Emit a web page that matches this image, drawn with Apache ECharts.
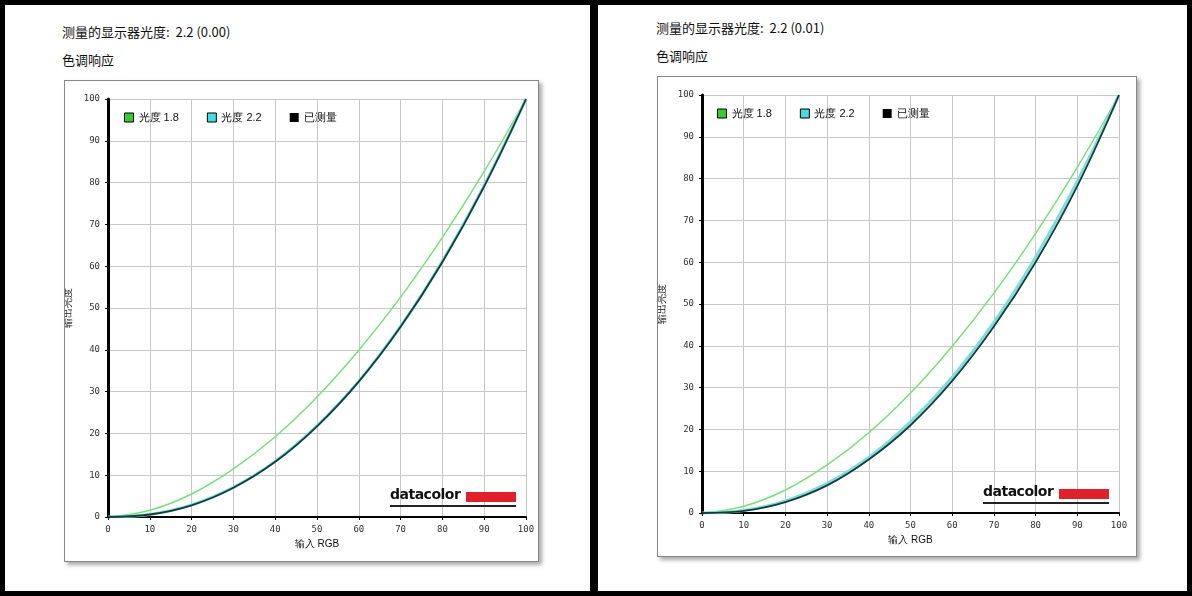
<!DOCTYPE html>
<html><head><meta charset="utf-8">
<script src="https://cdn.jsdelivr.net/npm/echarts@6/dist/echarts.min.js"></script>
<style>
body{margin:0;width:1192px;height:596px;background:#000;font-family:"Noto Sans CJK SC","Noto Sans",sans-serif;overflow:hidden;position:relative}
.pane{position:absolute;background:#fff}
.t{position:absolute;font-size:13px;color:#111}
.box{position:absolute;background:#fff;border:1px solid #888;box-shadow:3px 3px 4px #aaa}
.logo{position:absolute;font:bold 14px "DejaVu Sans",sans-serif;color:#111;letter-spacing:-0.5px}
.logo span{position:absolute;top:6px;height:10px;width:50px;background:#e0202a}
.logo i{position:absolute;left:0;top:19px;height:1.5px;width:126px;background:#222}
</style></head><body>
<div class="pane" style="left:5px;top:5px;width:585px;height:586px"></div>
<div class="pane" style="left:598px;top:5px;width:589px;height:586px"></div>
<div class="t" style="left:62px;top:22px">测量的显示器光度:&nbsp; 2.2 (0.00)</div>
<div class="t" style="left:62px;top:50px">色调响应</div>
<div class="t" style="left:656px;top:18px">测量的显示器光度:&nbsp; 2.2 (0.01)</div>
<div class="t" style="left:656px;top:46px">色调响应</div>
<div class="box" id="c1" style="left:64px;top:80px;width:473px;height:480px"></div>
<div class="box" id="c2" style="left:657px;top:76px;width:478px;height:479px"></div>
<div class="logo" style="left:390px;top:486px">datacolor<span style="left:76px"></span><i></i></div>
<div class="logo" style="left:983px;top:483px">datacolor<span style="left:76px"></span><i></i></div>
<script>
const xs = [0, 10, 20, 30, 40, 50, 60, 70, 80, 90, 100]
const gamma18 = [0, 1.6, 5.5, 11.5, 19.2, 28.7, 39.9, 52.6, 66.9, 82.7, 100]
const gamma22 = [0, 0.6, 2.9, 7.1, 13.3, 21.8, 32.5, 45.6, 61.2, 79.3, 100]
const measured1 = [0, 0.6, 2.8, 7.0, 13.2, 21.7, 32.4, 45.5, 61.0, 79.1, 100]
const measured2 = [0, 0.5, 2.6, 6.6, 12.8, 21.0, 31.6, 44.6, 60.0, 78.2, 100]

function pts(vals) { return xs.map((x, i) => [x, vals[i]]) }

function createGrafik(id, measured, grid) {
    const chart = echarts.init(document.getElementById(id))
    const lbl = { fontSize: 9, color: '#333', fontFamily: 'DejaVu Sans Mono' }
    const axisCommon = {
        type: 'value', min: 0, max: 100, interval: 10,
        splitLine: { lineStyle: { color: '#c8c8c8' } },
        axisTick: { show: true, length: 3, lineStyle: { color: '#000' } },
        axisLabel: lbl,
        nameTextStyle: { fontSize: 10, color: '#111' }
    }
    grid.containLabel = false
    grid.outerBoundsMode = 'none'
    chart.setOption({
        animation: false,
        grid: grid,
        legend: {
            left: 54, top: 26, itemGap: 28, itemWidth: 9, itemHeight: 9,
            textStyle: { fontSize: 11, color: '#111' },
            data: [
                { name: '光度 1.8', icon: 'rect', itemStyle: { color: '#33cc33', borderColor: '#000', borderWidth: 1 } },
                { name: '光度 2.2', icon: 'rect', itemStyle: { color: '#44dddd', borderColor: '#000', borderWidth: 1 } },
                { name: '已测量', icon: 'rect', itemStyle: { color: '#000' } }
            ]
        },
        xAxis: Object.assign({}, axisCommon, {
            name: '输入 RGB', nameLocation: 'middle', nameGap: 20,
            axisLine: { lineStyle: { color: '#000', width: 2 } }
        }),
        yAxis: Object.assign({}, axisCommon, {
            name: '输出亮度', nameLocation: 'middle', nameGap: 22,
            axisLine: { show: true, lineStyle: { color: '#000', width: 3 } }
        }),
        series: [
            { name: '光度 1.8', type: 'line', smooth: 0.4, showSymbol: false, data: pts(gamma18), lineStyle: { color: '#77e077', width: 1.5 }, itemStyle: { color: '#33cc33' } },
            { name: '光度 2.2', type: 'line', smooth: 0.4, showSymbol: false, data: pts(gamma22), lineStyle: { color: '#7adede', width: 3 }, itemStyle: { color: '#44dddd' } },
            { name: '已测量', type: 'line', smooth: 0.4, showSymbol: false, data: pts(measured), lineStyle: { color: '#1a3a3a', width: 1.8 }, itemStyle: { color: '#000' } }
        ]
    })
}

createGrafik('c1', measured1, { left: 43, top: 18, right: 12, bottom: 44 })
createGrafik('c2', measured2, { left: 44, top: 18, right: 17, bottom: 43 })
</script>
</body></html>
